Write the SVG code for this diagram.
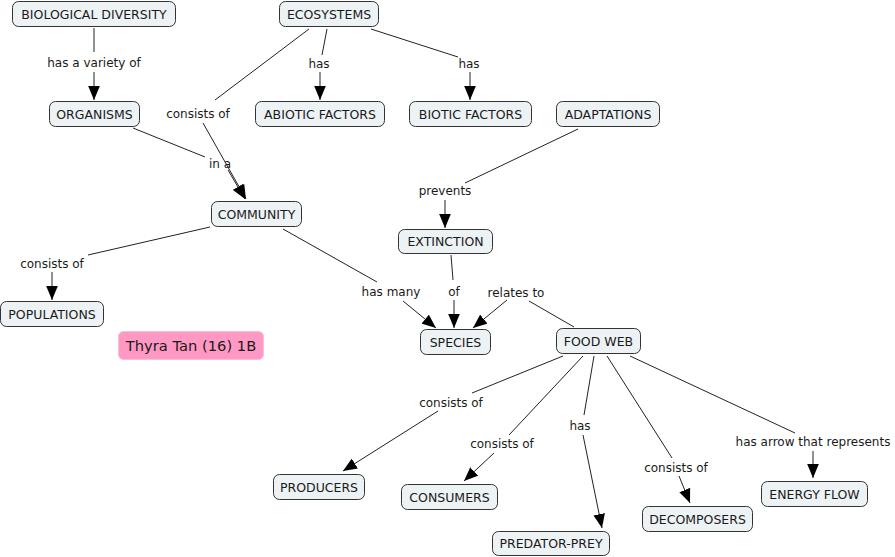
<svg xmlns="http://www.w3.org/2000/svg" width="895" height="557" viewBox="0 0 895 557">
<defs>
<marker id="ah" markerUnits="userSpaceOnUse" markerWidth="14" markerHeight="12" refX="12" refY="5" orient="auto" viewBox="0 0 12 10">
<path d="M0,0 L12,5 L0,10 z" fill="#000"/>
</marker>
<style>
.n rect{fill:#edf2f4;stroke:#333;stroke-width:1}
text{font-family:"DejaVu Sans",Verdana,sans-serif;font-size:12px;fill:#1a1a1a;text-anchor:middle}
.n text{font-size:12.5px}
.c line{stroke:#222;stroke-width:1}
.c line.a{marker-end:url(#ah)}
</style>
</defs>
<rect width="895" height="557" fill="#fff"/>
<g class="c">
<line x1="94" y1="28" x2="94" y2="52"/>
<line class="a" x1="94" y1="72" x2="94" y2="100"/>
<line x1="309" y1="29" x2="215" y2="100"/>
<line class="a" x1="203" y1="123" x2="246" y2="199"/>
<line x1="327" y1="29" x2="322" y2="55"/>
<line class="a" x1="320" y1="72" x2="320" y2="100"/>
<line x1="371" y1="29" x2="458" y2="57"/>
<line class="a" x1="470" y1="72" x2="470" y2="100"/>
<line x1="133" y1="128" x2="205" y2="157"/>
<line class="a" x1="228" y1="170" x2="245" y2="199"/>
<line x1="578" y1="129" x2="465" y2="183"/>
<line class="a" x1="445" y1="200" x2="445" y2="228"/>
<line x1="210" y1="227" x2="88" y2="255"/>
<line class="a" x1="52" y1="272" x2="52" y2="300"/>
<line x1="283" y1="229" x2="377" y2="282"/>
<line class="a" x1="403" y1="301" x2="436" y2="328"/>
<line x1="451" y1="255" x2="453" y2="280"/>
<line class="a" x1="454" y1="300" x2="454" y2="328"/>
<line x1="574" y1="327" x2="529" y2="301"/>
<line class="a" x1="507" y1="300" x2="473" y2="328"/>
<line x1="563" y1="356" x2="472" y2="393"/>
<line class="a" x1="438" y1="411" x2="343" y2="471"/>
<line x1="583" y1="356" x2="509" y2="435"/>
<line class="a" x1="494" y1="453" x2="464" y2="481"/>
<line x1="594" y1="356" x2="584" y2="415"/>
<line class="a" x1="583" y1="435" x2="602" y2="528"/>
<line x1="607" y1="356" x2="672" y2="458"/>
<line class="a" x1="679" y1="476" x2="690" y2="503"/>
<line x1="630" y1="356" x2="795" y2="433"/>
<line class="a" x1="813" y1="451" x2="813" y2="478"/>
</g>
<g id="labels">
<text x="94" y="67">has a variety of</text>
<text x="198" y="118">consists of</text>
<text x="319" y="68">has</text>
<text x="469" y="68">has</text>
<text x="220" y="168">in a</text>
<text x="445" y="195">prevents</text>
<text x="52" y="268">consists of</text>
<text x="391" y="296">has many</text>
<text x="454" y="296">of</text>
<text x="516" y="297">relates to</text>
<text x="451" y="407">consists of</text>
<text x="502" y="448">consists of</text>
<text x="580" y="430">has</text>
<text x="676" y="472">consists of</text>
<text x="813" y="446">has arrow that represents</text>
</g>
<g id="biodiv" class="n"><rect x="12.5" y="1.5" width="163" height="25" rx="6"/><text x="94" y="18.5">BIOLOGICAL DIVERSITY</text></g>
<g id="ecosystems" class="n"><rect x="279.5" y="1.5" width="99" height="25" rx="6"/><text x="329" y="18.5">ECOSYSTEMS</text></g>
<g id="organisms" class="n"><rect x="49.5" y="101.5" width="90" height="25" rx="6"/><text x="94.5" y="118.5">ORGANISMS</text></g>
<g id="abiotic" class="n"><rect x="255.5" y="101.5" width="129" height="25" rx="6"/><text x="320" y="118.5">ABIOTIC FACTORS</text></g>
<g id="biotic" class="n"><rect x="409.5" y="101.5" width="122" height="25" rx="6"/><text x="470.5" y="118.5">BIOTIC FACTORS</text></g>
<g id="adaptations" class="n"><rect x="556.5" y="101.5" width="103" height="25" rx="6"/><text x="608" y="118.5">ADAPTATIONS</text></g>
<g id="community" class="n"><rect x="211.5" y="201.5" width="90" height="25" rx="6"/><text x="256.5" y="218.5">COMMUNITY</text></g>
<g id="extinction" class="n"><rect x="398.5" y="229.5" width="94" height="24" rx="6"/><text x="445.5" y="246">EXTINCTION</text></g>
<g id="populations" class="n"><rect x="0.5" y="301.5" width="103" height="25" rx="6"/><text x="52" y="318.5">POPULATIONS</text></g>
<g id="author"><rect x="118.5" y="331.5" width="145" height="28" rx="5" fill="#ff99c4" stroke="#f7bfd3" stroke-width="1"/><text x="191" y="350.5" style="font-size:14.7px">Thyra Tan (16) 1B</text></g>
<g id="species" class="n"><rect x="420.5" y="329.5" width="70" height="25" rx="6"/><text x="455.5" y="346.5">SPECIES</text></g>
<g id="foodweb" class="n"><rect x="556.5" y="328.5" width="84" height="25" rx="6"/><text x="598.5" y="345.5">FOOD WEB</text></g>
<g id="producers" class="n"><rect x="273.5" y="474.5" width="91" height="25" rx="6"/><text x="319" y="491.5">PRODUCERS</text></g>
<g id="consumers" class="n"><rect x="401.5" y="484.5" width="96" height="25" rx="6"/><text x="449.5" y="501.5">CONSUMERS</text></g>
<g id="predator" class="n"><rect x="492.5" y="531.5" width="117" height="24" rx="6"/><text x="551" y="548">PREDATOR-PREY</text></g>
<g id="decomposers" class="n"><rect x="642.5" y="506.5" width="110" height="25" rx="6"/><text x="697.5" y="523.5">DECOMPOSERS</text></g>
<g id="energyflow" class="n"><rect x="761.5" y="481.5" width="106" height="25" rx="6"/><text x="814.5" y="498.5">ENERGY FLOW</text></g>
</svg>
